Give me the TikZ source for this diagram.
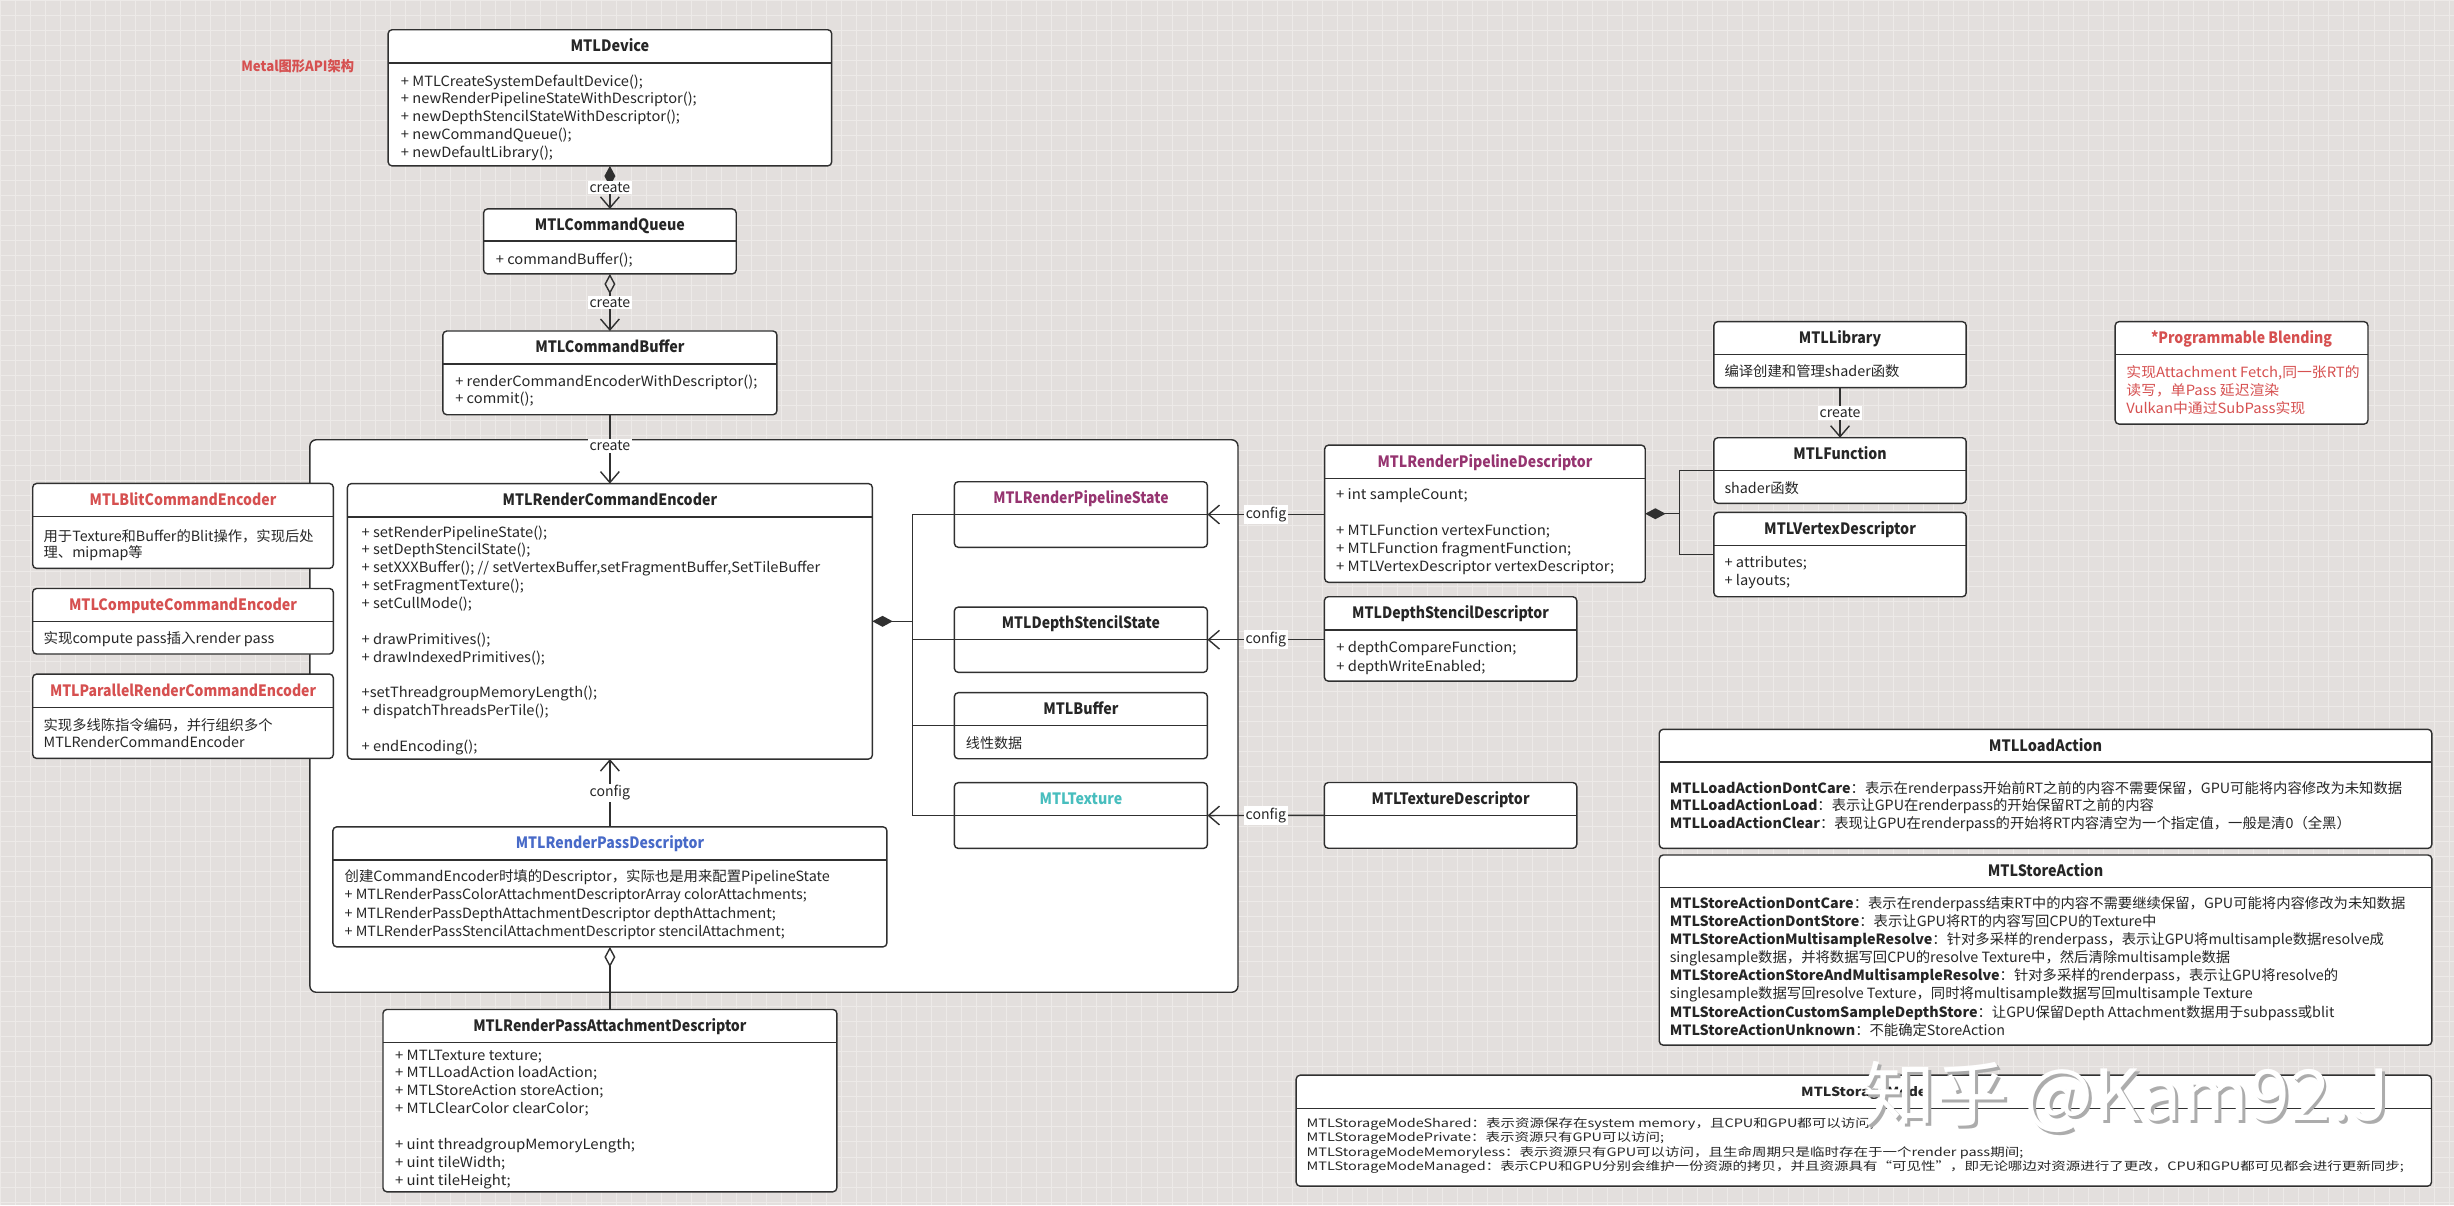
\documentclass[tikz,border=0pt]{standalone}
\usepackage{fontspec}
\setmainfont{Noto Sans CJK SC}
\usepackage{graphicx}
\usetikzlibrary{arrows.meta}
\definecolor{bgc}{RGB}{227,223,221}
\definecolor{gridc}{RGB}{237,234,232}
\definecolor{redc}{RGB}{214,80,80}
\definecolor{purc}{RGB}{150,52,112}
\definecolor{bluc}{RGB}{72,106,200}
\definecolor{cyac}{RGB}{72,190,190}
\definecolor{ink}{RGB}{38,38,38}
\definecolor{edge}{RGB}{48,48,48}
\newcommand\fitw[2]{\resizebox{#1pt}{\height}{#2}}
\newcommand\blines[3]{{\fontsize{#1}{#2}\selectfont\lineskiplimit=-100pt\relax\let\\\cr\vtop{\halign{##\hfil\cr#3\crcr}}}}
\newcommand\ubox[7][]{\node[box,#1,minimum width={#5-#3},minimum height={#6-#4}] (#2) at ({(#3+#5)/2},{(#4+#6)/2}) {};\draw[sepline] (#3,#7) -- (#5,#7);}
\tikzset{
 box/.style={draw=edge, fill=white, line width=0.9pt, rounded corners=2.5pt, inner sep=0pt, outer sep=0pt},
 sepline/.style={draw=edge, line width=0.9pt},
 ttl/.style={anchor=base, inner sep=0pt, text=ink, font=\bfseries\fontsize{10}{12}\selectfont},
 txt/.style={anchor=base west, inner sep=0pt, text=ink, font=\fontsize{9}{11}\selectfont},
 conn/.style={draw=edge, line width=0.9pt},
 lbl/.style={fill=white, inner sep=1.2pt, text=ink, font=\fontsize{9}{10}\selectfont},
 barb/.tip={Straight Barb[length=7pt,width=12pt]},
 fdia/.tip={Diamond[length=13pt,width=7pt]},
 odia/.tip={Diamond[open,length=13pt,width=7pt]},
 wmk/.style={inner sep=0pt, font=\fontsize{45}{45}\selectfont}
}
\begin{document}
\begin{tikzpicture}[x=1pt,y=-1pt]
\useasboundingbox (0,0) rectangle (1568,770);
\fill[bgc] (0,0) rectangle (1568,770);
\foreach \i in {0,...,163}{\draw[gridc, line width=0.5pt] ({\i*9.6},0) -- ({\i*9.6},770);}
\foreach \j in {0,...,80}{\draw[gridc, line width=0.5pt] (0,{\j*9.6}) -- (1568,{\j*9.6});}

\node[txt, text=redc, font=\bfseries\fontsize{9}{10}\selectfont] (title0) at (154,46) {\fitw{72}{Metal图形API架构}};

% container
\node[box, rounded corners=4pt, minimum width=593, minimum height=353] (ctr) at (494.5,457.5) {};

% MTLDevice
\ubox{dev}{248}{19}{531.4}{106}{40.3}
\node[ttl] (devt) at (389.7,33.2) {\fitw{50.3}{MTLDevice}};
\node[txt] (devb) at (256,55) {\fitw{189}{\blines{9}{11.35}{+ MTLCreateSystemDefaultDevice();\\+ newRenderPipelineStateWithDescriptor();\\+ newDepthStencilStateWithDescriptor();\\+ newCommandQueue();\\+ newDefaultLibrary();}}};

% MTLCommandQueue
\ubox{cq}{309}{133.5}{470.4}{175}{154}
\node[ttl] (cqt) at (389.7,147.2) {\fitw{95.9}{MTLCommandQueue}};
\node[txt] (cqb) at (316.6,168.7) {\fitw{87.5}{+ commandBuffer();}};

% MTLCommandBuffer
\ubox{cb}{283}{211.5}{496.4}{265}{232.6}
\node[ttl] (cbt) at (389.7,225.5) {\fitw{95.4}{MTLCommandBuffer}};
\node[txt] (cbb) at (290.7,246.7) {\fitw{193}{\blines{9}{10.8}{+ renderCommandEncoderWithDescriptor();\\+ commit();}}};

% MTLRenderCommandEncoder
\ubox{rce}{222}{309}{557.4}{485}{330.4}
\node[ttl] (rcet) at (389.7,323.2) {\fitw{137}{MTLRenderCommandEncoder}};
\node[txt] (rceb) at (230.9,343.2) {\fitw{293}{\blines{9}{11.4}{+ setRenderPipelineState();\\+ setDepthStencilState();\\+ setXXXBuffer(); // setVertexBuffer,setFragmentBuffer,SetTileBuffer\\+ setFragmentTexture();\\+ setCullMode();\\\\+ drawPrimitives();\\+ drawIndexedPrimitives();\\\\+setThreadgroupMemoryLength();\\+ dispatchThreadsPerTile();\\\\+ endEncoding();}}};

% right states
\ubox{rps}{609.8}{307.8}{771.5}{349.7}{328.75}
\node[ttl, text=purc] (rpst) at (690.65,321.7) {\fitw{112}{MTLRenderPipelineState}};
\ubox{dss}{609.8}{387.9}{771.5}{429.6}{408.75}
\node[ttl] (dsst) at (690.65,401.9) {\fitw{101}{MTLDepthStencilState}};
\ubox{buf}{609.8}{442.6}{771.5}{484.8}{463.7}
\node[ttl] (buft) at (690.65,456.6) {\fitw{48}{MTLBuffer}};
\node[txt] (bufb) at (617,478.3) {\fitw{36}{线性数据}};
\ubox{tex}{609.8}{500.1}{771.5}{542.1}{521.1}
\node[ttl, text=cyac] (text) at (690.65,514.1) {\fitw{52.8}{MTLTexture}};

% left encoders
\ubox{blit}{20.9}{308.9}{213}{363.2}{330.2}
\node[ttl, text=redc] (blitt) at (116.95,323) {\fitw{119.3}{MTLBlitCommandEncoder}};
\node[txt] (blitb) at (27.7,345.8) {\fitw{172.5}{\blines{9}{10.7}{用于Texture和Buffer的Blit操作，实现后处\\理、mipmap等}}};
\ubox{comp}{20.9}{376}{213}{417.9}{397}
\node[ttl, text=redc] (compt) at (116.95,390) {\fitw{145.7}{MTLComputeCommandEncoder}};
\node[txt] (compb) at (27.7,411.2) {\fitw{147.4}{实现compute pass插入render pass}};
\ubox{par}{20.9}{430.7}{213}{484.6}{452}
\node[ttl, text=redc] (part) at (116.95,444.8) {\fitw{170}{MTLParallelRenderCommandEncoder}};
\node[txt] (parb) at (27.7,467) {\fitw{146.3}{\blines{9}{10.7}{实现多线陈指令编码，并行组织多个\\MTLRenderCommandEncoder}}};

% MTLRenderPassDescriptor
\ubox{rpd}{212.7}{528.3}{566.7}{605}{549.5}
\node[ttl, text=bluc] (rpdt) at (389.7,542.4) {\fitw{120.3}{MTLRenderPassDescriptor}};
\node[txt] (rpdb) at (220,563.5) {\fitw{310}{\blines{9}{11.55}{创建CommandEncoder时填的Descriptor，实际也是用来配置PipelineState\\+ MTLRenderPassColorAttachmentDescriptorArray colorAttachments;\\+ MTLRenderPassDepthAttachmentDescriptor depthAttachment;\\+ MTLRenderPassStencilAttachmentDescriptor stencilAttachment;}}};

% MTLRenderPassAttachmentDescriptor
\ubox{rpad}{244.7}{645}{534.7}{761.5}{666}
\node[ttl] (rpadt) at (389.7,659) {\fitw{174.6}{MTLRenderPassAttachmentDescriptor}};
\node[txt] (rpadb) at (252.2,677.3) {\fitw{153.4}{\blines{9}{11.41}{+ MTLTexture texture;\\+ MTLLoadAction loadAction;\\+ MTLStoreAction storeAction;\\+ MTLClearColor clearColor;\\\\+ uint threadgroupMemoryLength;\\+ uint tileWidth;\\+ uint tileHeight;}}};

% descriptors
\ubox{rpld}{846.4}{284.4}{1051.2}{372.1}{305.7}
\node[ttl, text=purc] (rpldt) at (948.8,298.5) {\fitw{137.2}{MTLRenderPipelineDescriptor}};
\node[txt] (rpldb) at (853.5,319.2) {\fitw{177.7}{\blines{9}{11.5}{+ int sampleCount;\\\\+ MTLFunction vertexFunction;\\+ MTLFunction fragmentFunction;\\+ MTLVertexDescriptor vertexDescriptor;}}};
\ubox{dsd}{846.2}{381.3}{1007.5}{435.2}{402.6}
\node[ttl] (dsdt) at (926.85,395.4) {\fitw{125.7}{MTLDepthStencilDescriptor}};
\node[txt] (dsdb) at (853.7,417.1) {\fitw{115}{\blines{9}{11.7}{+ depthCompareFunction;\\+ depthWriteEnabled;}}};
\ubox{texd}{846.2}{500}{1007.5}{542}{521}
\node[ttl] (texdt) at (926.85,514) {\fitw{101}{MTLTextureDescriptor}};

% library / function / vertex descriptor
\ubox{lib}{1095.1}{205.5}{1256.3}{247.7}{226.6}
\node[ttl] (libt) at (1175.7,219.5) {\fitw{52.5}{MTLLibrary}};
\node[txt] (libb) at (1101.7,240.8) {\fitw{111.8}{编译创建和管理shader函数}};
\ubox{fn}{1095.1}{279.7}{1256.3}{321.6}{300.65}
\node[ttl] (fnt) at (1175.7,293.6) {\fitw{59.6}{MTLFunction}};
\node[txt] (fnb) at (1101.7,315.2) {\fitw{47.5}{shader函数}};
\ubox{vd}{1095.1}{327.4}{1256.3}{381.3}{348.5}
\node[ttl] (vdt) at (1175.7,341.4) {\fitw{96.9}{MTLVertexDescriptor}};
\node[txt] (vdb) at (1101.7,362.3) {\fitw{52.6}{\blines{9}{12}{+ attributes;\\+ layouts;}}};

% programmable blending
\ubox{pb}{1351.5}{205.5}{1513}{271}{226.4}
\node[ttl, text=redc] (pbt) at (1432.25,219.4) {\fitw{115.7}{*Programmable Blending}};
\node[txt, text=redc] (pbb) at (1358.5,241.1) {\fitw{149}{\blines{9}{11.5}{实现Attachment Fetch,同一张RT的\\读写，单Pass 延迟渲染\\Vulkan中通过SubPass实现}}};

% load / store actions
\ubox{load}{1060.2}{466}{1553.8}{542.1}{486.9}
\node[ttl] (loadt) at (1307,479.9) {\fitw{72.4}{MTLLoadAction}};
\node[txt] (loadb) at (1066.7,506.9) {\fitw{468}{\blines{9}{11.2}{\textbf{MTLLoadActionDontCare}：表示在renderpass开始前RT之前的内容不需要保留，GPU可能将内容修改为未知数据\\\textbf{MTLLoadActionLoad}：表示让GPU在renderpass的开始保留RT之前的内容\\\textbf{MTLLoadActionClear}：表现让GPU在renderpass的开始将RT内容清空为一个指定值，一般是清0（全黑）}}};
\ubox{store}{1060.2}{546.3}{1553.8}{667.8}{567}
\node[ttl] (storet) at (1307,560.1) {\fitw{73.7}{MTLStoreAction}};
\node[txt] (storeb) at (1066.7,580.4) {\fitw{470}{\blines{9}{11.57}{\textbf{MTLStoreActionDontCare}：表示在renderpass结束RT中的内容不需要继续保留，GPU可能将内容修改为未知数据\\\textbf{MTLStoreActionDontStore}：表示让GPU将RT的内容写回CPU的Texture中\\\textbf{MTLStoreActionMultisampleResolve}：针对多采样的renderpass，表示让GPU将multisample数据resolve成\\singlesample数据，并将数据写回CPU的resolve Texture中，然后清除multisample数据\\\textbf{MTLStoreActionStoreAndMultisampleResolve}：针对多采样的renderpass，表示让GPU将resolve的\\singlesample数据写回resolve Texture，同时将multisample数据写回multisample Texture\\\textbf{MTLStoreActionCustomSampleDepthStore}：让GPU保留Depth Attachment数据用于subpass或blit\\\textbf{MTLStoreActionUnknown}：不能确定StoreAction}}};

% storage mode
\ubox{stor}{828.2}{687}{1553.6}{757.9}{708.2}
\node[ttl, font=\bfseries\fontsize{8}{10}\selectfont] (stort) at (1190.9,700.6) {\fitw{80}{MTLStorageMode}};
\node[txt] (storb) at (834.7,720.4) {\fitw{701}{\blines{7.4}{9.23}{MTLStorageModeShared：表示资源保存在system memory，且CPU和GPU都可以访问;\\MTLStorageModePrivate：表示资源只有GPU可以访问;\\MTLStorageModeMemoryless：表示资源只有GPU可以访问，且生命周期只是临时存在于一个render pass期间;\\MTLStorageModeManaged：表示CPU和GPU分别会维护一份资源的拷贝，并且资源具有“可见性”，即无论哪边对资源进行了更改，CPU和GPU都可见都会进行更新同步;}}};

% connectors
\draw[conn, fdia-barb] (dev.south) -- node[lbl] (l1) {create} (cq.north);
\draw[conn, odia-barb] (cq.south) -- node[lbl] (l2) {create} (cb.north);
\draw[conn, -barb] (cb.south) -- node[lbl, pos=0.45] (l3) {create} (rce.north);
\draw[conn, -barb] (rpd.north) -- node[lbl] (l4) {config} (rce.south);
\draw[conn, odia-] (rpd.south) -- (rpad.north);

\coordinate (bus) at (583,397);
\draw[conn, fdia-] (rce.east) -- (bus);
\draw[conn] (rps.west) -| (bus) |- (tex.west);
\draw[conn] (dss.west) -- (dss.west -| bus);
\draw[conn] (buf.west) -- (buf.west -| bus);

\draw[conn, -barb] (rpld.west |- rps.east) -- node[lbl] (l5) {config} (rps.east);
\draw[conn, -barb] (dsd.west |- dss.east) -- node[lbl] (l6) {config} (dss.east);
\draw[conn, -barb] (texd.west) -- node[lbl] (l7) {config} (tex.east);

\coordinate (bus2) at (1073,328.25);
\draw[conn, fdia-] (rpld.east) -- (bus2);
\draw[conn] (fn.west) -| (bus2) |- (vd.west);
\draw[conn, -barb] (lib.south) -- node[lbl] (l8) {create} (fn.north);

% watermark
\node[wmk, text=gray!65] (wm1) at (1360.3,702.8) {\fitw{337}{知乎 @Kam92.J}};
\node[wmk, text=white] (wm2) at (1358.5,701) {\fitw{337}{知乎 @Kam92.J}};
\end{tikzpicture}
\end{document}
